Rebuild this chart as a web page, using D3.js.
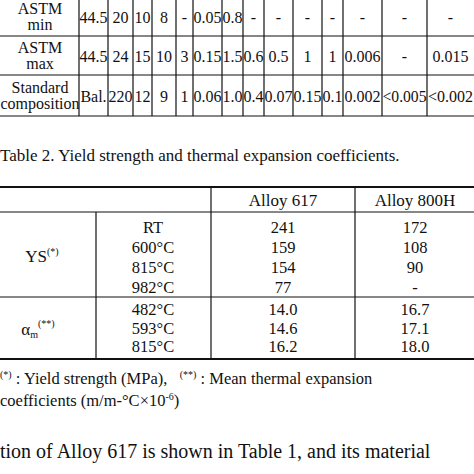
<!DOCTYPE html>
<html><head><meta charset="utf-8">
<script src="https://cdn.jsdelivr.net/npm/d3@7"></script>
<style>body{margin:0;background:#fff}text{font-family:"Liberation Serif","Times New Roman",Tinos,Times,serif;fill:#111}</style>
</head><body><div id="table"></div>
<script>
// table 1 tail (rows visible in the crop)
var t1_labels = [["ASTM","min"],["ASTM","max"],["Standard","composition"]];
var t1_rows = [
  ["44.5","20","10","8","-","0.05","0.8","-","-","-","-","-","-","-"],
  ["44.5","24","15","10","3","0.15","1.5","0.6","0.5","1","1","0.006","-","0.015"],
  ["Bal.","220","12","9","1","0.06","1.0","0.4","0.07","0.15","0.1","0.002","<0.005","<0.002"]
];
var t1_cols = [0,79,108,133,152,176,193,222,243,264,293,322,343,382,427,474];

// table 2
var t2_header = ["Alloy 617","Alloy 800H"];
var ys_temps = ["RT","600°C","815°C","982°C"];
var ys_617 = ["241","159","154","77"];
var ys_800 = ["172","108","90","-"];
var am_temps = ["482°C","593°C","815°C"];
var am_617 = ["14.0","14.6","16.2"];
var am_800 = ["16.7","17.1","18.0"];

var svg = d3.select("#table").append("svg").attr("width",474).attr("height",474);

function line(x1,y1,x2,y2,w){
  svg.append("line").attr("x1",x1).attr("y1",y1).attr("x2",x2).attr("y2",y2)
    .attr("stroke","#111").attr("stroke-width",w||1.2);
}
function txt(s,x,y,size,anchor){
  return svg.append("text").attr("x",x).attr("y",y).attr("font-size",size||16)
    .attr("text-anchor",anchor||"middle").text(s);
}

// --- table 1 ---
var rowY = [-2,36,75,116];
rowY.slice(1).forEach(function(y){ line(0,y,474,y); });
t1_cols.slice(1,-1).forEach(function(x){ line(x,0,x,116); });
t1_rows.forEach(function(r,i){
  var mid = (rowY[i]+rowY[i+1])/2;
  txt(t1_labels[i][0],40,mid-3,16);
  txt(t1_labels[i][1],40,mid+13,16);
  r.forEach(function(v,j){
    var x = (t1_cols[j+1]+t1_cols[j+2])/2, w = t1_cols[j+2]-t1_cols[j+1]-1;
    var t = txt(v,x,mid+6,16);
    if (t.node().getComputedTextLength() > w) t.attr("textLength",w).attr("lengthAdjust","spacingAndGlyphs");
  });
});

txt("Table 2. Yield strength and thermal expansion coefficients.",0,161,17,"start");

// --- table 2 ---
line(0,187,474,187,2);
line(0,212,474,212,1.2);
line(0,297,474,297,1.2);
line(0,359,474,359,2);
line(211,187,211,359); line(355,187,355,359); line(96,212,96,359);
txt(t2_header[0],283,206,17); txt(t2_header[1],415,206,17);

var ysY = d3.scalePoint().domain(d3.range(ys_temps.length)).range([227,287]);
ys_temps.forEach(function(t,i){
  txt(t,153,ysY(i)+6,16.5); txt(ys_617[i],283,ysY(i)+6,16.5); txt(ys_800[i],415,ysY(i)+6,16.5);
});
var ys = txt("YS",42,262,17); ys.append("tspan").attr("dy",-7).attr("font-size",10).text("(*)");

var amY = d3.scalePoint().domain(d3.range(am_temps.length)).range([309,346]);
am_temps.forEach(function(t,i){
  txt(t,153,amY(i)+6,16.5); txt(am_617[i],283,amY(i)+6,16.5); txt(am_800[i],415,amY(i)+6,16.5);
});
var am = txt("α",38,335,17);
am.append("tspan").attr("font-size",10).attr("dy",3).text("m");
am.append("tspan").attr("font-size",10).attr("dy",-11).text("(**)");

var f1 = svg.append("text").attr("x",0).attr("y",384).attr("font-size",16.5).attr("xml:space","preserve");
f1.append("tspan").attr("font-size",10).attr("dy",-6).text("(*)");
f1.append("tspan").attr("dy",6).text(" : Yield strength (MPa),   ");
f1.append("tspan").attr("font-size",10).attr("dy",-6).text("(**)");
f1.append("tspan").attr("dy",6).text(" : Mean thermal expansion");
var f2 = svg.append("text").attr("x",0).attr("y",406).attr("font-size",16.5).text("coefficients (m/m-°C×10");
f2.append("tspan").attr("font-size",10).attr("dy",-6).text("-6");
f2.append("tspan").attr("dy",6).text(")");

txt("tion of Alloy 617 is shown in Table 1, and its material",0,458,20,"start");
</script></body></html>
